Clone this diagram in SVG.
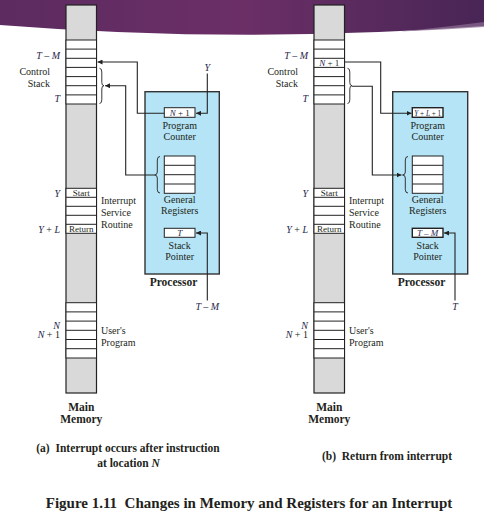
<svg xmlns="http://www.w3.org/2000/svg" width="484" height="514" viewBox="0 0 484 514">
<defs>
<linearGradient id="ban" x1="0" y1="0" x2="1" y2="0">
<stop offset="0" stop-color="#5c2b60"/>
<stop offset="0.5" stop-color="#6b2f66"/>
<stop offset="1" stop-color="#482555"/>
</linearGradient>
<marker id="ah" viewBox="0 0 6 6" refX="6" refY="3" markerWidth="5" markerHeight="5" orient="auto" markerUnits="userSpaceOnUse">
<path d="M0,0 L6,3 L0,6 Z" fill="#222"/>
</marker>
<style>
text{font-family:"Liberation Serif","Times New Roman",serif;fill:#231f20;font-size:10px}
.i{font-style:italic;fill:#26264a}
.s{font-size:9px}
.b{font-weight:bold}
.r{text-anchor:end}
.m{text-anchor:middle}
.mem{fill:#d9d9d9;stroke:#222;stroke-width:1.2}
.cell{fill:#fff;stroke:#222;stroke-width:1}
.proc{fill:#b4e4f5;stroke:#333;stroke-width:1.4}
.reg{fill:#fff;stroke:#222;stroke-width:1}
.br{fill:none;stroke:#222;stroke-width:0.9}
.cn{fill:none;stroke:#222;stroke-width:1.1}
</style>
</defs>
<rect width="484" height="514" fill="#fff"/>
<path d="M0,0 H484 V26 Q240,44 0,25 Z" fill="url(#ban)"/>
<path d="M400,31.5 Q445,27 484,22 V27 Q445,29.5 400,31.5 Z" fill="#8c6d93" opacity="0.7"/>

<!-- Panel (a) -->
<g id="memory-a">
<rect class="mem" x="66" y="5" width="30.5" height="388"/>
<rect class="cell" x="66" y="40" width="30.5" height="64"/>
<path d="M66,49.1H96.5M66,58.3H96.5M66,67.4H96.5M66,76.6H96.5M66,85.7H96.5M66,94.9H96.5" stroke="#222" stroke-width="1"/>
<rect class="cell" x="66" y="188.3" width="30.5" height="45"/>
<path d="M66,197.3H96.5M66,206.3H96.5M66,215.3H96.5M66,224.3H96.5" stroke="#222" stroke-width="1"/>
<rect class="cell" x="66" y="302.7" width="30.5" height="55.3"/>
<path d="M66,311.9H96.5M66,321.1H96.5M66,330.3H96.5M66,339.5H96.5M66,348.7H96.5" stroke="#222" stroke-width="1"/>
<text class="s m" x="81.25" y="196">Start</text>
<text class="s m" x="81.25" y="232">Return</text>
<text class="i r" x="60" y="58.5">T – M</text>
<text class="r" x="50" y="75">Control</text>
<text class="r" x="50" y="87">Stack</text>
<text class="i r" x="60" y="101.5">T</text>
<text class="i r" x="60" y="196.5">Y</text>
<text class="r" x="60" y="232.5"><tspan class="i">Y</tspan> + <tspan class="i">L</tspan></text>
<text class="i r" x="60" y="328.5">N</text>
<text class="r" x="60" y="338"><tspan class="i">N</tspan> + 1</text>
<text x="101" y="203.5">Interrupt</text>
<text x="101" y="215.5">Service</text>
<text x="101" y="227.5">Routine</text>
<text x="101" y="333.5">User's</text>
<text x="101" y="346">Program</text>
<text class="b m" x="81.25" y="410.5" style="font-size:11.5px">Main</text>
<text class="b m" x="81.25" y="423" style="font-size:11.5px">Memory</text>
<path class="br" d="M99.5,68.3 Q101.8,68.3 101.8,72 L101.8,82.5 Q101.8,85.7 104,85.7 Q101.8,85.7 101.8,89 L101.8,99.8 Q101.8,103.5 99.5,103.5"/>
</g>
<g id="processor-a">
<rect class="proc" x="145" y="91.7" width="74.3" height="182.3"/>
<rect class="reg" x="164.3" y="107.7" width="30.7" height="9.6"/>
<text class="s m" x="179.7" y="115.9"><tspan class="i">N</tspan> + 1</text>
<text class="m" x="179.7" y="128.5">Program</text>
<text class="m" x="179.7" y="140">Counter</text>
<rect class="reg" x="164.3" y="156" width="30.7" height="37.3"/>
<path d="M164.3,165.3H195M164.3,174.7H195M164.3,184H195" stroke="#222" stroke-width="1"/>
<path class="br" d="M160,156.5 Q157.3,156.5 157.3,160 L157.3,172 Q157.3,175 154.5,175 Q157.3,175 157.3,178 L157.3,189.5 Q157.3,193 160,193"/>
<text class="m" x="179.7" y="202.5">General</text>
<text class="m" x="179.7" y="214">Registers</text>
<rect class="reg" x="164.3" y="228.3" width="30.7" height="9"/>
<text class="s i m" x="179.7" y="236">T</text>
<text class="m" x="179.7" y="248.5">Stack</text>
<text class="m" x="179.7" y="260">Pointer</text>
<text class="b m" x="173.5" y="285.5" style="font-size:11.5px">Processor</text>
<text class="i m" x="207.3" y="70.5">Y</text>
<text class="i m" x="207.3" y="309.5">T – M</text>
</g>

<!-- Panel (b) -->
<g id="memory-b">
<rect class="mem" x="314" y="5" width="30.5" height="388"/>
<rect class="cell" x="314" y="40" width="30.5" height="64"/>
<path d="M314,49.1H344.5M314,58.3H344.5M314,67.4H344.5M314,76.6H344.5M314,85.7H344.5M314,94.9H344.5" stroke="#222" stroke-width="1"/>
<rect class="cell" x="314" y="188.3" width="30.5" height="45"/>
<path d="M314,197.3H344.5M314,206.3H344.5M314,215.3H344.5M314,224.3H344.5" stroke="#222" stroke-width="1"/>
<rect class="cell" x="314" y="302.7" width="30.5" height="55.3"/>
<path d="M314,311.9H344.5M314,321.1H344.5M314,330.3H344.5M314,339.5H344.5M314,348.7H344.5" stroke="#222" stroke-width="1"/>
<text class="s m" x="329.25" y="65.8"><tspan class="i">N</tspan> + 1</text>
<text class="s m" x="329.25" y="196">Start</text>
<text class="s m" x="329.25" y="232">Return</text>
<text class="i r" x="308" y="58.5">T – M</text>
<text class="r" x="298" y="75">Control</text>
<text class="r" x="298" y="87">Stack</text>
<text class="i r" x="308" y="101.5">T</text>
<text class="i r" x="308" y="196.5">Y</text>
<text class="r" x="308" y="232.5"><tspan class="i">Y</tspan> + <tspan class="i">L</tspan></text>
<text class="i r" x="308" y="328.5">N</text>
<text class="r" x="308" y="338"><tspan class="i">N</tspan> + 1</text>
<text x="349" y="203.5">Interrupt</text>
<text x="349" y="215.5">Service</text>
<text x="349" y="227.5">Routine</text>
<text x="349" y="333.5">User's</text>
<text x="349" y="346">Program</text>
<text class="b m" x="329.25" y="410.5" style="font-size:11.5px">Main</text>
<text class="b m" x="329.25" y="423" style="font-size:11.5px">Memory</text>
<path class="br" d="M347.5,68.3 Q349.8,68.3 349.8,72 L349.8,82.5 Q349.8,85.7 352,85.7 Q349.8,85.7 349.8,89 L349.8,99.8 Q349.8,103.5 347.5,103.5"/>
</g>
<g id="processor-b">
<rect class="proc" x="392.7" y="91.7" width="75" height="182.3"/>
<rect class="reg" x="412.3" y="107.7" width="30.7" height="9.6" style="stroke-width:1.4"/>
<text class="m" x="427.7" y="115.6" style="font-size:8.5px" textLength="27" lengthAdjust="spacingAndGlyphs"><tspan class="i">Y</tspan> + <tspan class="i">L</tspan> + 1</text>
<text class="m" x="427.7" y="128.5">Program</text>
<text class="m" x="427.7" y="140">Counter</text>
<rect class="reg" x="412.3" y="156" width="30.7" height="37.3"/>
<path d="M412.3,165.3H443M412.3,174.7H443M412.3,184H443" stroke="#222" stroke-width="1"/>
<path class="br" d="M408,156.5 Q405.3,156.5 405.3,160 L405.3,172 Q405.3,175 402.5,175 Q405.3,175 405.3,178 L405.3,189.5 Q405.3,193 408,193"/>
<text class="m" x="427.7" y="202.5">General</text>
<text class="m" x="427.7" y="214">Registers</text>
<rect class="reg" x="412.3" y="228.3" width="30.7" height="9" style="stroke-width:1.4"/>
<text class="s i m" x="427.7" y="236">T – M</text>
<text class="m" x="427.7" y="248.5">Stack</text>
<text class="m" x="427.7" y="260">Pointer</text>
<text class="b m" x="421.5" y="285.5" style="font-size:11.5px">Processor</text>
<text class="i m" x="455" y="309.5">T</text>
</g>

<g id="connectors">
<path class="cn" d="M164.3,113.3 H137.3 V62 H97.5" marker-end="url(#ah)"/>
<path class="cn" d="M154.5,175 H125.7 V85.7 H105" marker-end="url(#ah)"/>
<path class="cn" d="M207.3,73.5 V113.3 H196" marker-end="url(#ah)"/>
<path class="cn" d="M207.3,300.5 V233 H196" marker-end="url(#ah)"/>
<path class="cn" d="M344.5,62 H380.7 V113.3 H411.5" marker-end="url(#ah)"/>
<path class="cn" d="M352,86.3 H372.3 V175 H401.5" marker-end="url(#ah)"/>
<path class="cn" d="M455,300.5 V233 H444" marker-end="url(#ah)"/>
</g>

<g id="captions">
<text class="b m" x="128" y="452" style="font-size:11.5px">(a)&#160; Interrupt occurs after instruction</text>
<text class="b m" x="128.5" y="466.5" style="font-size:11.5px">at location <tspan class="i" style="fill:#231f20">N</tspan></text>
<text class="b m" x="387" y="460" style="font-size:11.5px">(b)&#160; Return from interrupt</text>
<text class="b m" x="249" y="507.5" style="font-size:15px">Figure 1.11&#160; Changes in Memory and Registers for an Interrupt</text>
</g>
</svg>
